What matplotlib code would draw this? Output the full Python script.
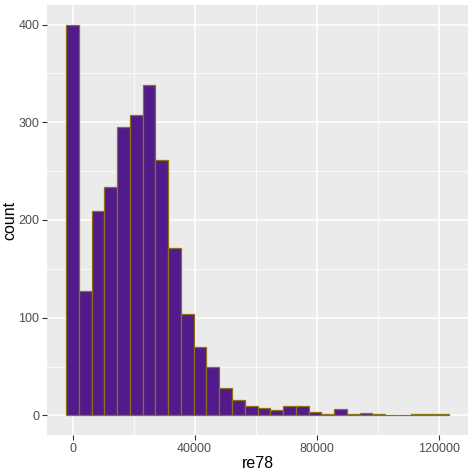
import numpy as np
import matplotlib.pyplot as plt

# histogram of re78, 30 bins (ggplot default)
counts = [400, 127, 209, 234, 295, 307, 338, 261, 171, 104,
          70, 50, 28, 16, 10, 8, 6, 10, 10, 4,
          1, 7, 1, 3, 2, 0, 0, 1, 1, 1]
x_max = 121174
x_ticks = [0, 40000, 80000, 120000]
y_ticks = [0, 100, 200, 300, 400]

bin_width = x_max / (len(counts) - 1)
centers = np.arange(len(counts)) * bin_width

plt.rcParams['font.family'] = ['Liberation Sans', 'DejaVu Sans']

fig = plt.figure(figsize=(4.74, 4.74), dpi=100)
ax = fig.add_axes([47 / 474, 39 / 474, 421 / 474, 430 / 474])
ax.set_facecolor('#EBEBEB')

ax.bar(centers, counts, width=bin_width, color='#521A8B',
       edgecolor='#8B7214', linewidth=0.9, zorder=3)

lo = -bin_width / 2
hi = x_max + bin_width / 2
pad = (hi - lo) * 0.05
ax.set_xlim(lo - pad, hi + pad)
ax.set_ylim(-20, 420)

ax.set_xticks(x_ticks)
ax.set_xticks([20000, 60000, 100000], minor=True)
ax.set_yticks(y_ticks)
ax.set_yticks([50, 150, 250, 350], minor=True)
ax.grid(which='major', color='white', linewidth=1.1, zorder=0)
ax.grid(which='minor', color='white', linewidth=0.55, zorder=0)
ax.set_axisbelow(True)

for s in ax.spines.values():
    s.set_visible(False)
ax.tick_params(which='major', length=3.5, width=0.8, color='#333333',
               labelcolor='#4D4D4D', labelsize=9, pad=2)
ax.tick_params(which='minor', length=0)

ax.set_xlabel('re78', fontsize=11.5, labelpad=1)
ax.set_ylabel('count', fontsize=11.5, labelpad=1)

fig.savefig('out.png', dpi=100)
